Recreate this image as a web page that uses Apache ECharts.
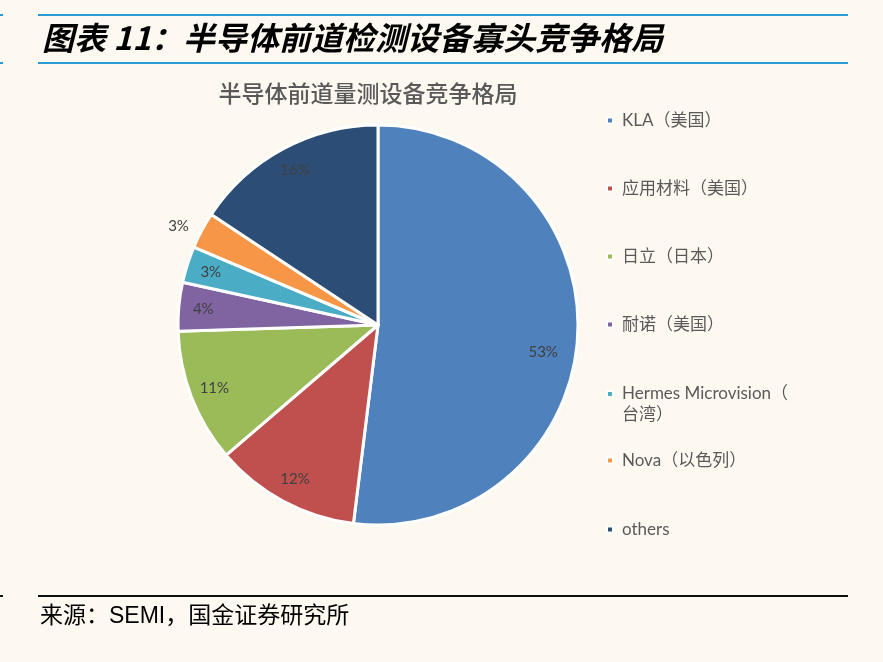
<!DOCTYPE html>
<html>
<head>
<meta charset="utf-8">
<script src="https://cdn.jsdelivr.net/npm/echarts@6/dist/echarts.min.js"></script>
<style>
html,body{margin:0;padding:0;background:#FDF9F0;}
#c{width:883px;height:662px;}
</style>
</head>
<body>
<div id="c"></div>
<script>
// ---- data ----
const categories = ['KLA（美国）', '应用材料（美国）', '日立（日本）', '耐诺（美国）', 'Hermes Microvision（\n台湾）', 'Nova（以色列）', 'others'];
const shares = [53, 12, 11, 4, 3, 3, 16];
const sliceColors = ['#4F81BD', '#C0504D', '#9BBB59', '#8064A2', '#4BACC6', '#F79646', '#2C4D75'];
const figureTitle = '图表 11：半导体前道检测设备寡头竞争格局';
const chartTitle = '半导体前道量测设备竞争格局';
const sourceText = '来源：SEMI，国金证券研究所';

const latin = 'Lato, "Noto Sans CJK SC", sans-serif';
const cx = 378, cy = 325, R = 200;

const mainData = categories.map((n, i) => ({ name: n, value: shares[i], itemStyle: { color: sliceColors[i] } }));
const labelData = categories.map((n, i) => {
  const d = { name: n, value: shares[i] };
  if (i === 0) {
    d.label = { offset: [-10, 16] };
  }
  if (i === 5) {
    d.label = { position: 'outside', distance: 2 };
    d.labelLine = { show: false, length: 9, length2: 0 };
  }
  return d;
});

const legendCenters = [120, 188, 256, 324, 392, 460, 529];
const legends = categories.map((n, i) => {
  const twoLine = n.indexOf('\n') >= 0;
  return {
    orient: 'vertical',
    left: 601,
    top: twoLine ? legendCenters[i] - 13.5 : legendCenters[i] - 15,
    data: [n],
    icon: twoLine ? 'path://M0,0L6,0L6,6L0,6ZM0,27L0.01,27' : 'rect',
    itemWidth: 6,
    itemHeight: twoLine ? 27 : 6,
    selectedMode: false,
    textStyle: {
      fontFamily: latin, fontSize: 17, color: '#595959', lineHeight: 21,
      padding: [0, 0, 0, 4]
    }
  };
});

const chart = echarts.init(document.getElementById('c'));
chart.setOption({
  backgroundColor: '#FDF9F0',
  animation: false,
  legend: legends,
  graphic: [
    { type: 'rect', shape: { x: 38, y: 14, width: 810, height: 2 }, style: { fill: '#2A9AD6' } },
    { type: 'rect', shape: { x: 38, y: 62, width: 810, height: 2 }, style: { fill: '#2A9AD6' } },
    { type: 'rect', shape: { x: 0, y: 14, width: 3, height: 2 }, style: { fill: '#2A9AD6' } },
    { type: 'rect', shape: { x: 0, y: 62, width: 3, height: 2 }, style: { fill: '#2A9AD6' } },
    { type: 'rect', shape: { x: 38, y: 595, width: 810, height: 2 }, style: { fill: '#111' } },
    { type: 'rect', shape: { x: 0, y: 595, width: 3, height: 2 }, style: { fill: '#111' } },
    { type: 'text', x: 42, y: 38, style: { text: figureTitle, fontFamily: '"Noto Sans CJK SC"', fontSize: 32, fontWeight: 'bold', fontStyle: 'italic', fill: '#000', verticalAlign: 'middle' } },
    { type: 'text', x: 368, y: 93, style: { text: chartTitle, fontFamily: '"Noto Sans CJK SC"', fontSize: 23, fontWeight: 500, fill: '#595959', align: 'center', verticalAlign: 'middle' } },
    { type: 'text', x: 40, y: 617, style: { text: sourceText, fontFamily: '"Liberation Sans", "Noto Sans CJK SC"', fontSize: 23, fill: '#000', verticalAlign: 'middle' } }
  ],
  series: [
    {
      type: 'pie',
      center: [cx, cy],
      radius: R,
      startAngle: 90,
      clockwise: true,
      silent: true,
      label: { show: false },
      labelLine: { show: false },
      itemStyle: { borderColor: '#FFFFFF', borderWidth: 3 },
      data: mainData
    },
    {
      type: 'pie',
      center: [cx, cy],
      radius: [145, R],
      startAngle: 90,
      clockwise: true,
      silent: true,
      itemStyle: { color: 'rgba(0,0,0,0)' },
      label: { show: true, position: 'inside', formatter: '{c}%', fontFamily: latin, fontSize: 15, color: '#404040' },
      labelLine: { show: false },
      data: labelData
    }
  ]
});
</script>
</body>
</html>
